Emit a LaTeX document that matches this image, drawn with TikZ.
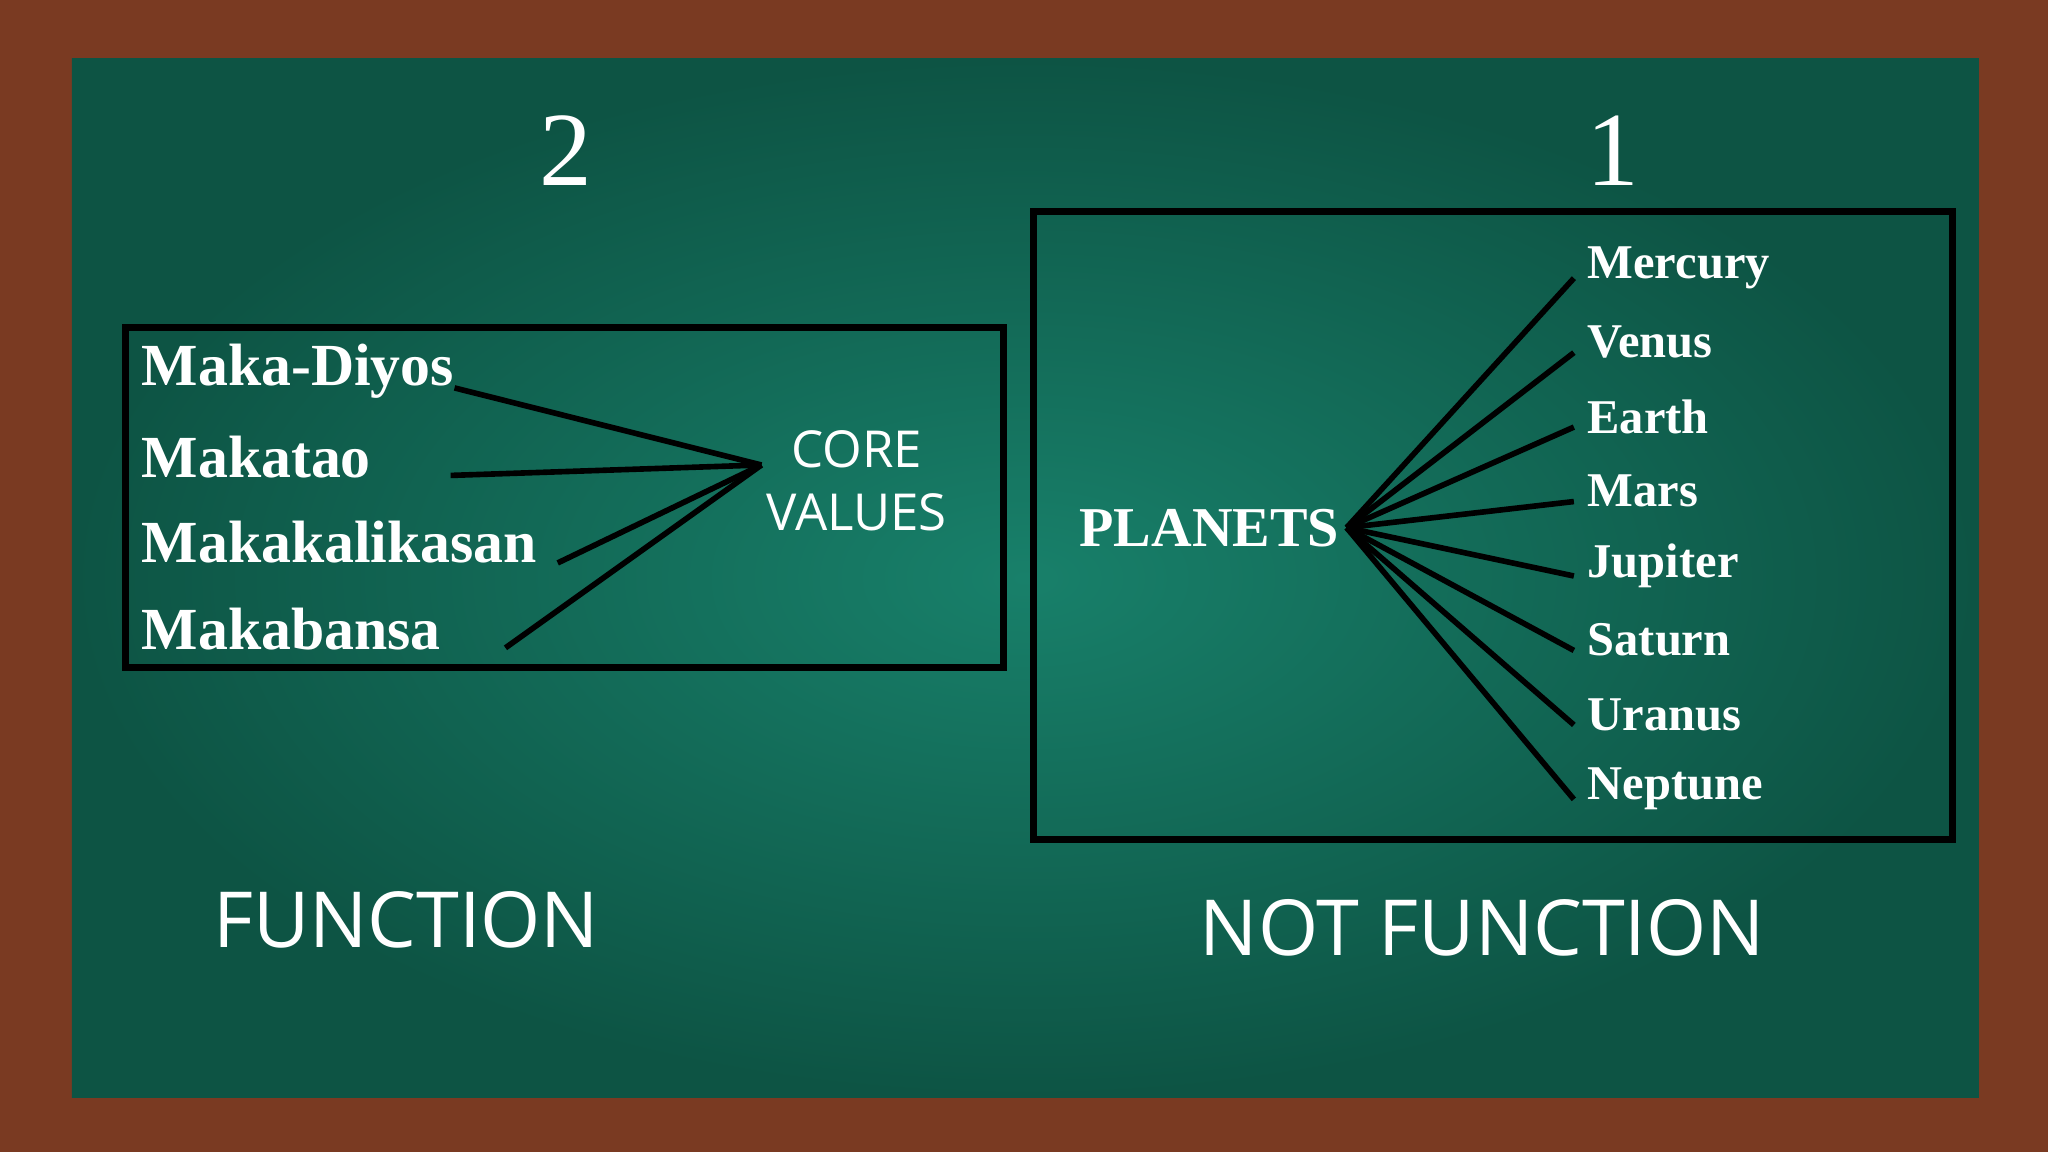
\documentclass[tikz,border=0pt]{standalone}
\usepackage{fontspec}
\setmainfont{Liberation Serif}
\newfontfamily\lightsans{Open Sans}
\definecolor{wood}{HTML}{7A3A22}
\definecolor{boardc}{HTML}{18806A}
\definecolor{boarde}{HTML}{0D5444}
\tikzset{
 lbl/.style={anchor=west,text=white,font=\bfseries\fontsize{17}{20}\selectfont,inner sep=0pt},
 pl/.style={anchor=west,text=white,font=\bfseries\fontsize{13.8}{16}\selectfont,inner sep=0pt},
 big/.style={text=white,font=\lightsans\fontsize{22}{26}\selectfont,inner sep=0pt},
 ln/.style={line width=1.6pt,black},
 box/.style={line width=2pt,black}
}
\begin{document}
\begin{tikzpicture}[x=0.013061cm,y=-0.013061cm]
\useasboundingbox (0,0) rectangle (1568,882);
\fill[wood] (0,0) rectangle (1568,882);
\shade[inner color=boardc,outer color=boarde] (55,45) rectangle (1515,840);
\node[text=white,font=\fontsize{30}{34}\selectfont,inner sep=0pt] (n2) at (433,115) {2};
\node[text=white,font=\fontsize{30}{34}\selectfont,inner sep=0pt] (n1) at (1235,115) {1};
\draw[box] (96,251) rectangle (768,511);
\draw[box] (791,162) rectangle (1495,643);
\node[lbl] (a) at (108,284) {Maka-Diyos};
\node[lbl] (b) at (108,350) {Makatao};
\node[lbl] (c) at (108,415) {Makakalikasan};
\node[lbl] (d) at (108,482) {Makabansa};
\coordinate (hub) at (583,356);
\coordinate (a1) at (348,297);
\coordinate (b1) at (345,364);
\coordinate (c1) at (427,431);
\coordinate (d1) at (387,496);
\foreach \p in {a1,b1,c1,d1} \draw[ln] (\p) -- (hub);
\node[align=center,text=white,inner sep=0pt,font=\lightsans\fontsize{14.5}{18}\selectfont] (cv) at (656,368) {CORE\\VALUES};
\node[lbl,font=\bfseries\fontsize{16}{19}\selectfont] (pl) at (826,404) {PLANETS};
\coordinate (ph) at (1031,404);
\foreach \n/\y in {Mercury/205,Venus/262,Earth/319,Mars/376,Jupiter/433,Saturn/490,Uranus/547,Neptune/604}{
 \node[pl] (p\n) at (1215,\y) {\n};
 \draw[ln] (ph) -- (1205,\y+8);
}
\node[big] (f) at (311,704) {FUNCTION};
\node[big] (nf) at (1135,710) {NOT FUNCTION};
\end{tikzpicture}
\end{document}
